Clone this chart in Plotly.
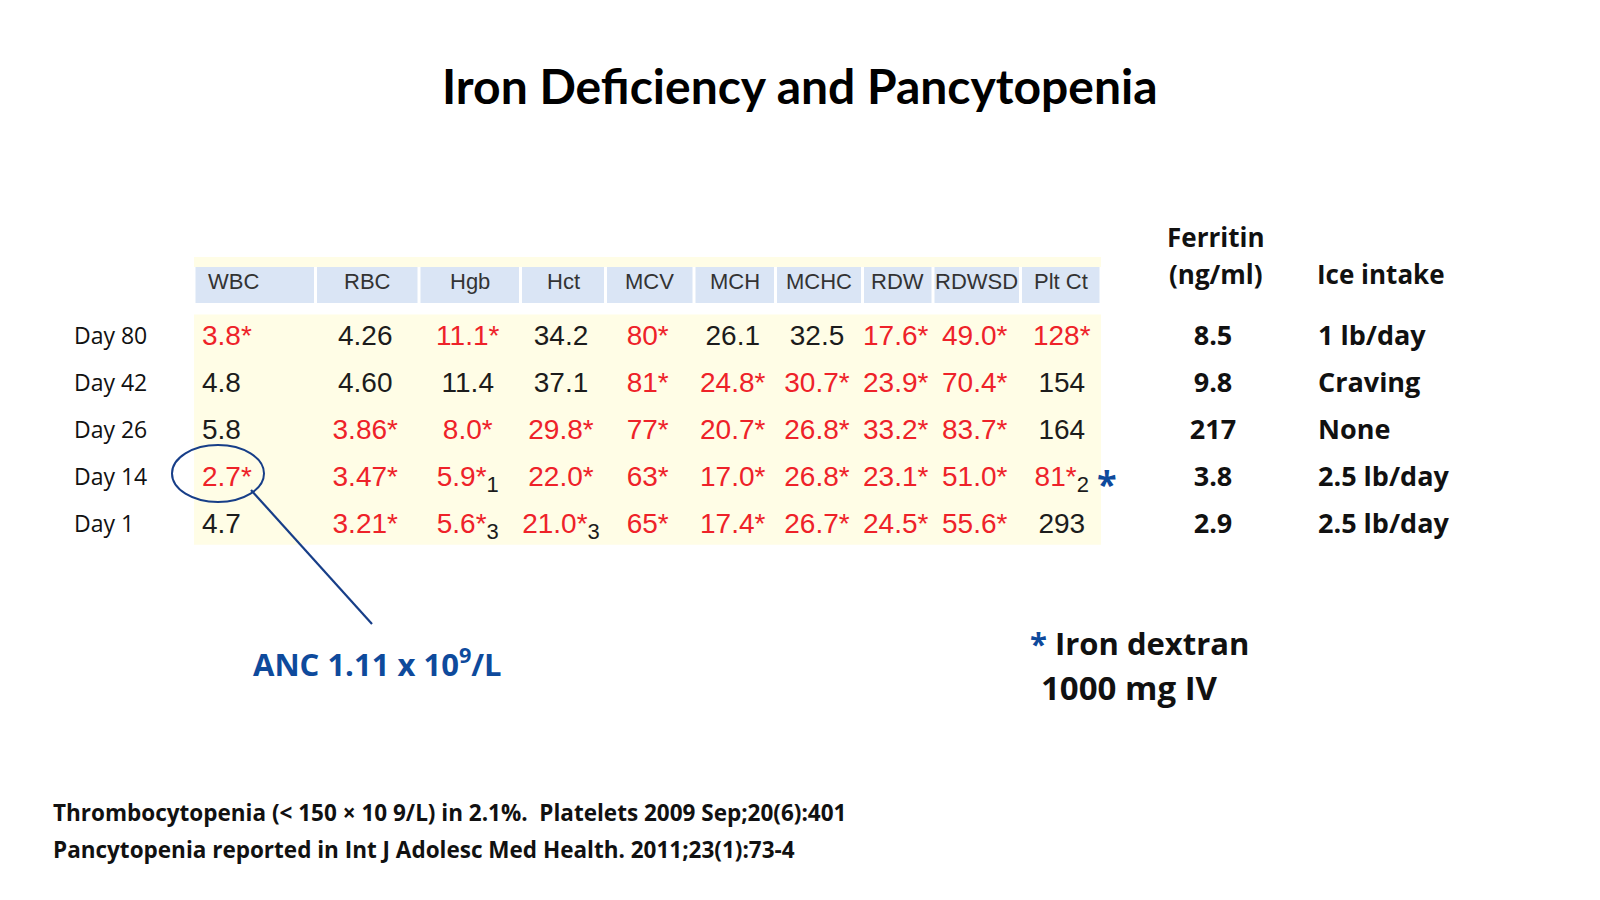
import plotly.graph_objects as go

# Datos de la tabla
days = ["Day 80", "Day 42", "Day 26", "Day 14", "Day 1"]
columns = ["WBC", "RBC", "Hgb", "Hct", "MCV", "MCH", "MCHC", "RDW", "RDWSD", "Plt Ct"]

wbc = ["3.8*", "4.8", "5.8", "2.7*", "4.7"]
rbc = ["4.26", "4.60", "3.86*", "3.47*", "3.21*"]
hgb = ["11.1*", "11.4", "8.0*", "5.9*", "5.6*"]
hct = ["34.2", "37.1", "29.8*", "22.0*", "21.0*"]
mcv = ["80*", "81*", "77*", "63*", "65*"]
mch = ["26.1", "24.8*", "20.7*", "17.0*", "17.4*"]
mchc = ["32.5", "30.7*", "26.8*", "26.8*", "26.7*"]
rdw = ["17.6*", "23.9*", "33.2*", "23.1*", "24.5*"]
rdwsd = ["49.0*", "70.4*", "83.7*", "51.0*", "55.6*"]
plt_ct = ["128*", "154", "164", "81*", "293"]

# subindices de notas al pie
hgb_sub = ["", "", "", "1", "3"]
hct_sub = ["", "", "", "", "3"]
plt_sub = ["", "", "", "2", ""]

ferritin = ["8.5", "9.8", "217", "3.8", "2.9"]
ice_intake = ["1 lb/day", "Craving", "None", "2.5 lb/day", "2.5 lb/day"]

table_values = [wbc, rbc, hgb, hct, mcv, mch, mchc, rdw, rdwsd, plt_ct]
table_subs = [None, None, hgb_sub, hct_sub, None, None, None, None, None, plt_sub]

# Estilos / geometria (pixeles)
W, H = 1600, 900
col_edges = [186, 307.5, 411, 512.5, 597.5, 686, 767.5, 854.5, 925, 1012.5, 1093]
row_top_px = 330
row_step_px = 47
RED = "#EE2229"
DARK = "#1c1c1c"
BLUE = "#0E4A9C"
HEAD_BLUE = "#DAE5F5"
YELLOW = "#FFFDE6"


def py(p):
    # pixel vertical -> paper
    return 1 - p / H


fig = go.Figure()

# Valores de la tabla
for i, (col, vals) in enumerate(zip(columns, table_values)):
    x0, x1 = col_edges[i], col_edges[i + 1]
    subs = table_subs[i]
    texts = []
    for j, v in enumerate(vals):
        t = v
        if subs is not None and subs[j]:
            t += "<sub><span style='color:%s;font-size:22px'>%s</span></sub>" % (DARK, subs[j])
        texts.append(t)
    colors = [RED if "*" in v else DARK for v in vals]
    if i == 0:
        xs = [x0 + 8] * len(vals)
        pos = "middle right"
    elif i == len(columns) - 1:
        xs = [(x0 + x1) / 2 + 1] * len(vals)
        pos = "middle center"
    else:
        xs = [(x0 + x1) / 2 - 2] * len(vals)
        pos = "middle center"
    fig.add_trace(go.Scatter(
        x=xs, y=days, mode="text", text=texts, textposition=pos,
        textfont=dict(family="Liberation Sans", size=28, color=colors),
        hoverinfo="skip", showlegend=False, cliponaxis=False))

# Etiquetas de dias
fig.add_trace(go.Scatter(
    x=[66] * len(days), y=days, mode="text", text=days, textposition="middle right",
    textfont=dict(family="Open Sans", size=23, color="#111111"),
    hoverinfo="skip", showlegend=False, cliponaxis=False))

# Ferritina y consumo de hielo
fig.add_trace(go.Scatter(
    x=[1205] * len(ferritin), y=days, mode="text", text=ferritin, textposition="middle center",
    textfont=dict(family="Open Sans", size=27, color="#111111", weight="bold"),
    hoverinfo="skip", showlegend=False, cliponaxis=False))
fig.add_trace(go.Scatter(
    x=[1310] * len(ice_intake), y=days, mode="text", text=ice_intake, textposition="middle right",
    textfont=dict(family="Open Sans", size=27, color="#111111", weight="bold"),
    hoverinfo="skip", showlegend=False, cliponaxis=False))

shapes = []
# franja amarilla superior y cuerpo de la tabla
shapes.append(dict(type="rect", xref="x", yref="paper", x0=col_edges[0], x1=col_edges[-1],
                   y0=py(259), y1=py(249), fillcolor=YELLOW, line_width=0, layer="below"))
shapes.append(dict(type="rect", xref="x", yref="y", x0=col_edges[0], x1=col_edges[-1],
                   y0=-0.5, y1=len(days) - 0.6, fillcolor=YELLOW, line_width=0, layer="below"))
# celdas de cabecera
annotations = []
for i, col in enumerate(columns):
    x0, x1 = col_edges[i] + 1.5, col_edges[i + 1] - 1.5
    shapes.append(dict(type="rect", xref="x", yref="paper", x0=x0, x1=x1,
                       y0=py(295), y1=py(259), fillcolor=HEAD_BLUE, line_width=0, layer="below"))
    if i == 0:
        annotations.append(dict(x=x0 + 10, y=py(273), xref="x", yref="paper", text=col,
                                showarrow=False, xanchor="left", yanchor="middle",
                                font=dict(family="Liberation Sans", size=22, color="#333333")))
    else:
        annotations.append(dict(x=(x0 + x1) / 2, y=py(273), xref="x", yref="paper", text=col,
                                showarrow=False, xanchor="center", yanchor="middle",
                                font=dict(family="Liberation Sans", size=22, color="#333333")))

# elipse y linea del ANC
shapes.append(dict(type="circle", xref="x", yref="paper", x0=164, x1=256, y0=py(494), y1=py(437),
                   line=dict(color="#173E88", width=2)))
shapes.append(dict(type="line", xref="x", yref="paper", x0=243, x1=364, y0=py(482), y1=py(616),
                   line=dict(color="#173E88", width=2.2)))

# titulo
annotations.append(dict(x=792, y=py(77), xref="x", yref="paper", text="<b>Iron Deficiency and Pancytopenia</b>",
                        showarrow=False, xanchor="center", yanchor="middle",
                        font=dict(family="Lato", size=48, color="#000000")))
# cabeceras ferritina / hielo
annotations.append(dict(x=1208, y=py(229), xref="x", yref="paper", text="<b>Ferritin</b>",
                        showarrow=False, xanchor="center", yanchor="middle",
                        font=dict(family="Open Sans", size=26, color="#111111")))
annotations.append(dict(x=1208, y=py(266), xref="x", yref="paper", text="<b>(ng/ml)</b>",
                        showarrow=False, xanchor="center", yanchor="middle",
                        font=dict(family="Open Sans", size=26, color="#111111")))
annotations.append(dict(x=1307, y=py(266), xref="x", yref="paper", text="<b>Ice intake</b>",
                        showarrow=False, xanchor="left", yanchor="middle",
                        font=dict(family="Open Sans", size=26, color="#111111")))
# asterisco azul del hierro dextrano
annotations.append(dict(x=1087, y=py(475), xref="x", yref="paper", text="<b>*</b>",
                        showarrow=False, xanchor="left", yanchor="middle",
                        font=dict(family="Open Sans", size=36, color=BLUE)))
# ANC
annotations.append(dict(x=243, y=py(654), xref="x", yref="paper",
                        text="<b>ANC 1.11 x 10<sup>9</sup>/L</b>",
                        showarrow=False, xanchor="left", yanchor="middle",
                        font=dict(family="Open Sans", size=31, color=BLUE)))
# Iron dextran
annotations.append(dict(x=1020, y=py(635), xref="x", yref="paper",
                        text="<span style='color:%s'>*</span> Iron dextran" % BLUE,
                        showarrow=False, xanchor="left", yanchor="middle",
                        font=dict(family="Open Sans", size=31, color="#111111", weight="bold")))
annotations.append(dict(x=1031, y=py(679), xref="x", yref="paper", text="1000 mg IV",
                        showarrow=False, xanchor="left", yanchor="middle",
                        font=dict(family="Open Sans", size=33, color="#111111", weight="bold")))
# referencias
annotations.append(dict(x=43, y=py(804), xref="x", yref="paper",
                        text="Thrombocytopenia (< 150 × 10 9/L) in 2.1%.  Platelets 2009 Sep;20(6):401",
                        showarrow=False, xanchor="left", yanchor="middle",
                        font=dict(family="Open Sans", size=22.5, color="#111111", weight="bold")))
annotations.append(dict(x=43, y=py(841), xref="x", yref="paper",
                        text="Pancytopenia reported in Int J Adolesc Med Health. 2011;23(1):73-4",
                        showarrow=False, xanchor="left", yanchor="middle",
                        font=dict(family="Open Sans", size=22.5, color="#111111", weight="bold")))

y_top = -row_top_px / row_step_px
y_bottom = (H - row_top_px) / row_step_px

fig.update_layout(
    width=W, height=H,
    margin=dict(l=0, r=0, t=0, b=0),
    paper_bgcolor="white", plot_bgcolor="white",
    xaxis=dict(range=[0, W], visible=False, fixedrange=True),
    yaxis=dict(type="category", categoryorder="array", categoryarray=days,
               range=[y_bottom, y_top], visible=False, fixedrange=True),
    shapes=shapes, annotations=annotations,
    showlegend=False,
)

fig.write_html("out.html", config={"displayModeBar": False})
